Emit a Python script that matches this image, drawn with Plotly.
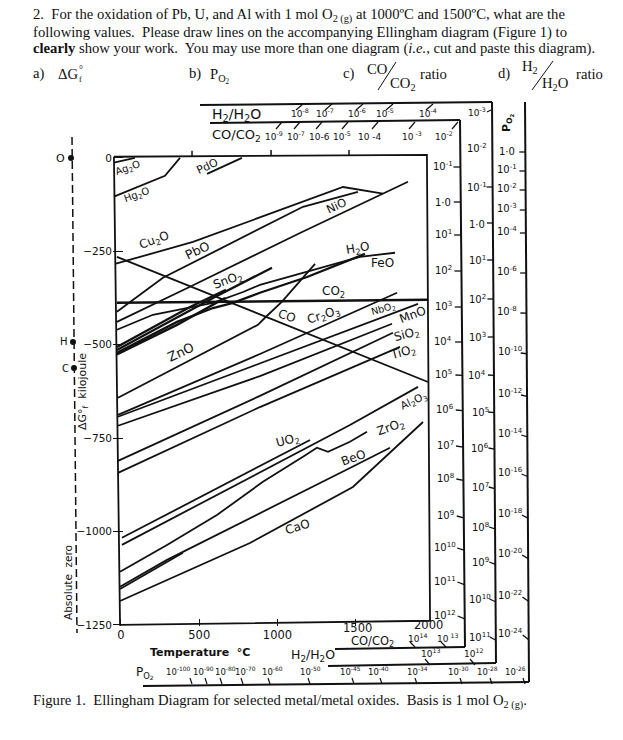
import plotly.graph_objects as go

W, H = 623, 740

# ---------- data: temperature (deg C) and free energy (kJ) ----------
series = {}
series["Ag2O"] = ([-45, 89], [-13, 0])
series["Hg2O"] = ([-45, 281, 377], [-104, -48, 0])
series["PdO"] = ([550, 773], [-43, 0])
series["Cu2O"] = ([-38, 460, 1419, 1674], [-284, -225, -78, -96])
series["PbO"] = ([-26, 268, 1163, 1514], [-412, -321, -131, -91])
series["NiO"] = ([-26, 441, 1144, 1834], [-439, -345, -201, -64])
series["FeO"] = ([-26, 204, 588, 780, 888, 1163, 1527, 1751], [-460, -420, -388, -359, -340, -308, -265, -254])
series["CO"] = ([-26, 1962], [-265, -600])
series["ZnO"] = ([-19, 875, 920, 1029, 1240], [-642, -447, -428, -385, -284])
series["Cr2O3"] = ([-19, 888, 1764], [-688, -525, -361])
series["NbO2"] = ([-19, 888, 1898], [-693, -551, -391])
series["MnO"] = ([-19, 888, 1732], [-717, -584, -444])
series["SiO2"] = ([-19, 888, 1738], [-811, -637, -468])
series["TiO2"] = ([-19, 888, 1783], [-843, -667, -506])
series["UO2"] = ([6, 1208], [-1017, -755])
series["Al2O3"] = ([6, 1463, 1898], [-1036, -715, -613])
series["ZrO2"] = ([-6, 294, 613, 907, 1163, 1252, 1323, 1463, 1572], [-1108, -1036, -956, -867, -800, -776, -787, -760, -733])
series["BeO"] = ([-6, 294, 1463, 1719], [-1148, -1076, -830, -776])
series["Be-b"] = ([-6, 396], [-1154, -1057])
series["CaO"] = ([-6, 824, 1482, 1930], [-1186, -1031, -881, -707])
# the dense band where several oxide lines run together
band = {}
band["H2O"] = ([-26, 358, 588, 716, 888, 1189, 1559], [-522, -439, -402, -388, -361, -319, -257])
band["SnO2"] = ([-26, 364, 588, 965], [-514, -426, -375, -294])
band["Sn-a"] = ([-26, 358, 665], [-526, -447, -375])
band["Sn-b"] = ([-26, 441, 671], [-506, -399, -353])
co2_T = [-26, 1962]
co2_G = [-388, -380]
frame_T = [-45, 1955, 1975, -6, -45]
frame_G = [3, 8, -1239, -1250, 3]
top_tick_T = [454, 454, None, 959, 959, None, 1457, 1457]
top_tick_G = [3, 19, None, 5, 21, None, 6, 21]

temp_ticks = [0, 500, 1000, 1500]
temp_labels = ["0", "500", "1000", ""]
energy_ticks = [0, -250, -500, -750, -1000, -1250]
energy_labels = ["0", "\u2212250", "\u2212500", "\u2212750", "\u22121000", "\u22121250"]

# Oxygen-potential and gas-ratio scales: label, position along the scale
co_col = ["10<sup>-1</sup>", "1\u00b70", "10<sup>1</sup>", "10<sup>2</sup>", "10<sup>3</sup>", "10<sup>4</sup>", "10<sup>5</sup>", "10<sup>6</sup>", "10<sup>7</sup>", "10<sup>8</sup>", "10<sup>9</sup>", "10<sup>10</sup>", "10<sup>11</sup>", "10<sup>12</sup>"]
co_col_y = [167, 202, 235, 271, 307, 342, 375, 410, 446, 479, 516, 548, 582, 616]
h2_col = ["10<sup>-2</sup>", "10<sup>-1</sup>", "1\u00b70", "10<sup>1</sup>", "10<sup>2</sup>", "10<sup>3</sup>", "10<sup>4</sup>", "10<sup>5</sup>", "10<sup>6</sup>", "10<sup>7</sup>", "10<sup>8</sup>", "10<sup>9</sup>", "10<sup>10</sup>", "10<sup>11</sup>"]
h2_col_y = [149, 188, 224, 261, 300, 338, 376, 413, 449, 488, 528, 563, 600, 638]
po_col = ["1\u00b70", "10<sup>-1</sup>", "10<sup>-2</sup>", "10<sup>-3</sup>", "10<sup>-4</sup>", "10<sup>-6</sup>", "10<sup>-8</sup>", "10<sup>-10</sup>", "10<sup>-12</sup>", "10<sup>-14</sup>", "10<sup>-16</sup>", "10<sup>-18</sup>", "10<sup>-20</sup>", "10<sup>-22</sup>", "10<sup>-24</sup>"]
po_col_y = [152, 171, 190, 210, 233, 273, 313, 353, 395, 435, 474, 515, 555, 597, 635]
h2_top = ["10<sup>-8</sup>", "10<sup>-7</sup>", "10<sup>-6</sup>", "10<sup>-5</sup>", "10<sup>-4</sup>", "10<sup>-3</sup>"]
h2_top_x = [300, 325, 357, 385, 428, 477]
co_top = ["10<sup>-9</sup>", "10<sup>-7</sup>", "10-6", "10<sup>-5</sup>", "10 -4", "10<sup> -3</sup>", "10<sup>-2</sup>"]
co_top_x = [274, 296, 320, 342, 370, 412, 444]
po_bot = ["10<sup>-100</sup>", "10<sup>-90</sup>", "10<sup>-80</sup>", "10<sup>-70</sup>", "10<sup>-60</sup>", "10<sup>-50</sup>", "10<sup>-45</sup>", "10<sup>-40</sup>", "10<sup>-34</sup>", "10<sup>-30</sup>", "10<sup>-28</sup>", "10<sup>-26</sup>"]
po_bot_x = [178, 203, 225, 245, 272, 310, 350, 378, 417, 458, 488, 515]

# ---------- helpers (reference pixels -> page fractions) ----------
shapes, notes = [], []
SANS = "DejaVu Sans"
SERIF = "Liberation Serif"

def txt(x, y, t, size=9, angle=0, anchor="center", font=SANS):
    # a subscript or superscript makes the text box taller; keep the baseline where it was read
    if angle == 0:
        if "<sub>" in t:
            y += size * 0.18
        if "<sup>" in t:
            y -= size * 0.12
    notes.append(dict(x=x / W, y=1 - y / H, xref="paper", yref="paper", text=t, showarrow=False,
                      xanchor=anchor, yanchor="middle", textangle=angle,
                      font=dict(family=font, size=size, color="#111"), borderpad=0))

def seg(x0, y0, x1, y1, w=1.6, dash=None):
    line = dict(color="#111", width=w)
    if dash:
        line["dash"] = dash
    shapes.append(dict(type="line", xref="paper", yref="paper", x0=x0 / W, y0=1 - y0 / H,
                       x1=x1 / W, y1=1 - y1 / H, line=line))

def poly(pts, w=2):
    for a, b in zip(pts, pts[1:]):
        seg(a[0], a[1], b[0], b[1], w)

# ---------- figure ----------
fig = go.Figure()
for name, (T, G) in series.items():
    fig.add_trace(go.Scatter(x=T, y=G, mode="lines", name=name, showlegend=False, cliponaxis=False,
                             hoverinfo="skip", line=dict(color="#111", width=1.8)))
for name, (T, G) in band.items():
    fig.add_trace(go.Scatter(x=T, y=G, mode="lines", name=name, showlegend=False, cliponaxis=False,
                             hoverinfo="skip", line=dict(color="#111", width=2.3)))
fig.add_trace(go.Scatter(x=co2_T, y=co2_G, mode="lines", name="CO2", showlegend=False, cliponaxis=False,
                         hoverinfo="skip", line=dict(color="#111", width=2.4)))
fig.add_trace(go.Scatter(x=frame_T, y=frame_G, mode="lines", showlegend=False, cliponaxis=False,
                         hoverinfo="skip", line=dict(color="#111", width=1.8)))
fig.add_trace(go.Scatter(x=top_tick_T, y=top_tick_G, mode="lines", showlegend=False, cliponaxis=False,
                         hoverinfo="skip", line=dict(color="#111", width=1.5)))

# outer frames
poly([(200, 105), (492, 102), (496, 663), (328, 666)], 2)
poly([(210, 123), (460, 120), (465, 647), (335, 649)], 2)
poly([(525, 102), (529, 682), (143, 686)], 2)

# top scales
for x, t in zip(h2_top_x, h2_top):
    txt(x, 114 if x < 470 else 113, t, 9)
for x0 in [303, 332, 363, 393, 433]:
    seg(x0, 104, x0 - 7, 110, 1.2)
seg(487, 112, 491, 110, 1.2)
for x, t in zip(co_top_x, co_top):
    txt(x, 137, t, 9)
for x0 in [282, 300, 322, 348, 378, 415, 458]:
    seg(x0, 122, x0 - 6, 129, 1.2)

# right-hand scales
for t, y in zip(co_col, co_col_y):
    txt(443 if y < 400 else 445, y, t, 10)
    fx = 460 + (y - 120) * 5 / 527
    sl = max(0, (y - 350) / 90)
    seg(fx - 7, y, fx, y + sl, 1.3)
for t, y in zip(h2_col, h2_col_y):
    txt(477 if y < 400 else 480, y, t, 10)
    if y > 170:
        fx = 492 + (y - 102) * 4 / 561
        sl = max(0, (y - 350) / 90)
        seg(fx - 6, y - 1, fx, y - 1 + sl, 1.3)
for t, y in zip(po_col, po_col_y):
    txt(507 if y < 340 else 510, y - 1, t, 10)
    fx = 525 + (y - 102) * 4 / 580
    sl = max(0, (y - 300) / 70)
    seg(fx - 6, y, fx, y + sl, 1.3)

# bottom scales
txt(417, 639, "10<sup>14</sup>", 9)
txt(447, 639, "10<sup> 13</sup>", 9)
for x0 in [410, 441]:
    seg(x0, 642, x0 + 5, 647, 1.2)
txt(430, 654, "10<sup>13</sup>", 9)
txt(473, 654, "10<sup>12</sup>", 9)
for x0 in [425, 470]:
    seg(x0, 659, x0 + 5, 665, 1.2)
for x, t in zip(po_bot_x, po_bot):
    txt(x, 672, t, 8.5)
for x0 in [190, 205, 220, 241, 268, 308, 352, 380, 415, 460, 490, 523]:
    seg(x0, 678, x0 + 2, 684, 1.2)

# captions on the diagram
txt(236, 112, "H<sub>2</sub>/H<sub>2</sub>O", 14)
txt(236, 133, "CO/CO<sub>2</sub>", 13)
txt(508, 123, "<b>P<sub>O<sub>2</sub></sub></b>", 11, -90)
txt(200, 652, "<b>Temperature  \u00b0C</b>", 11)
txt(313, 653, "H<sub>2</sub>/H<sub>2</sub>O", 12.5)
txt(372, 639, "CO/CO<sub>2</sub>", 11.5)
txt(357, 628, "1500", 11.5)
txt(428, 625, "2000", 11.5)
txt(145, 671, "P<sub>O<sub>2</sub></sub>", 12)
txt(83, 392, "\u0394G\u00b0<sub>f</sub>  kilojoule", 11, -90)
txt(68, 583, "Absolute  zero", 10.5, -90)
txt(61, 158, "O", 11)
txt(64, 342, "H", 10)
txt(65, 368, "C", 10)

# left dashed scale
seg(72, 137, 77, 633, 1.5, "8px,4px")
for x, y in [(71, 158), (73, 342), (74, 368)]:
    shapes.append(dict(type="circle", xref="paper", yref="paper", x0=(x - 3) / W, x1=(x + 3) / W,
                       y0=1 - (y + 3) / H, y1=1 - (y - 3) / H, fillcolor="#111", line=dict(width=0)))

# oxide labels
for t, x, y, a, s in [
    ("Ag<sub>2</sub>O", 128, 168, -20, 10), ("Hg<sub>2</sub>O", 137, 196, -20, 10),
    ("PdO", 207, 166, -25, 11), ("Cu<sub>2</sub>O", 154, 241, -20, 12),
    ("PbO", 197, 251, -25, 12.5), ("NiO", 336, 206, -25, 11.5),
    ("SnO<sub>2</sub>", 228, 281, -20, 12), ("H<sub>2</sub>O", 358, 249, -10, 12),
    ("FeO", 382, 263, 0, 12), ("CO<sub>2</sub>", 333, 290, 0, 12),
    ("CO", 287, 316, 20, 12), ("Cr<sub>2</sub>O<sub>3</sub>", 323, 316, -18, 12),
    ("NbO<sub>2</sub>", 383, 309, -15, 9.5), ("MnO", 412, 315, -20, 12),
    ("SiO<sub>2</sub>", 407, 335, -15, 12), ("TiO<sub>2</sub>", 403, 353, -15, 12),
    ("Al<sub>2</sub>O<sub>3</sub>", 414, 401, -25, 10.5), ("ZrO<sub>2</sub>", 391, 428, -20, 12),
    ("BeO", 353, 458, -20, 12), ("UO<sub>2</sub>", 288, 441, -15, 12),
    ("CaO", 297, 527, -18, 12), ("ZnO", 180, 352, -25, 13)]:
    txt(x, y, t, s, a)

# surrounding question text
txt(32, 13, "2.  For the oxidation of Pb, U, and Al with 1 mol O<sub>2 (g)</sub> at 1000\u00baC and 1500\u00baC, what are the", 14.67, anchor="left", font=SERIF)
txt(32, 32, "following values.  Please draw lines on the accompanying Ellingham diagram (Figure 1) to", 14.67, anchor="left", font=SERIF)
txt(32, 49, "<b>clearly</b> show your work.  You may use more than one diagram (<i>i.e.</i>, cut and paste this diagram).", 14.67, anchor="left", font=SERIF)
txt(32, 74, "a)", 14.67, anchor="left", font=SERIF)
txt(57, 74, "\u0394G", 14.67, anchor="left", font=SERIF)
txt(78, 69, "\u00b0", 10, anchor="left", font=SERIF)
txt(78, 79, "f", 8, anchor="left", font=SERIF)
txt(188, 74, "b)", 14.67, anchor="left", font=SERIF)
txt(209, 73, "P<sub>O<sub>2</sub></sub>", 14.67, anchor="left", font=SERIF)
txt(342, 74, "c)", 14.67, anchor="left", font=SERIF)
txt(366, 69, "CO", 14.67, anchor="left", font=SERIF)
seg(396, 62, 378, 90, 1)
txt(389, 81, "CO<sub>2</sub>", 14.67, anchor="left", font=SERIF)
txt(419, 74, "ratio", 14.67, anchor="left", font=SERIF)
txt(497, 74, "d)", 14.67, anchor="left", font=SERIF)
txt(521, 64, "H<sub>2</sub>", 14.67, anchor="left", font=SERIF)
seg(553, 61, 532, 90, 1)
txt(541, 81, "H<sub>2</sub>O", 14.67, anchor="left", font=SERIF)
txt(575, 74, "ratio", 14.67, anchor="left", font=SERIF)
txt(32, 699, "Figure 1.  Ellingham Diagram for selected metal/metal oxides.  Basis is 1 mol O<sub>2 (g)</sub>.", 14.67, anchor="left", font=SERIF)

fig.update_layout(
    width=W, height=H, margin=dict(l=0, r=0, t=0, b=0, pad=0), autosize=False,
    paper_bgcolor="white", plot_bgcolor="white", showlegend=False,
    shapes=shapes, annotations=notes,
    xaxis=dict(domain=[113 / W, 436 / W], range=[-51, 2013], showgrid=False, zeroline=False, showline=False,
               automargin=False,
               tickvals=temp_ticks, ticktext=temp_labels, ticks="inside", ticklen=7,
               tickwidth=1.3, tickcolor="#111", tickfont=dict(family=SANS, size=11.5, color="#111")),
    yaxis=dict(domain=[1 - 626 / H, 1 - 150 / H], range=[-1253, 21], showgrid=False, zeroline=False, showline=False,
               automargin=False,
               tickvals=energy_ticks, ticktext=energy_labels, ticks="inside", ticklen=10,
               tickwidth=1.3, tickcolor="#111", tickfont=dict(family=SANS, size=10.5, color="#111")),
)

fig.write_html(
    "out.html",
    config={"displayModeBar": False, "responsive": False},
    post_script="document.body.style.margin='0';document.documentElement.style.overflow='hidden';"
                "document.body.style.overflow='hidden';document.body.style.height='740px';",
)
